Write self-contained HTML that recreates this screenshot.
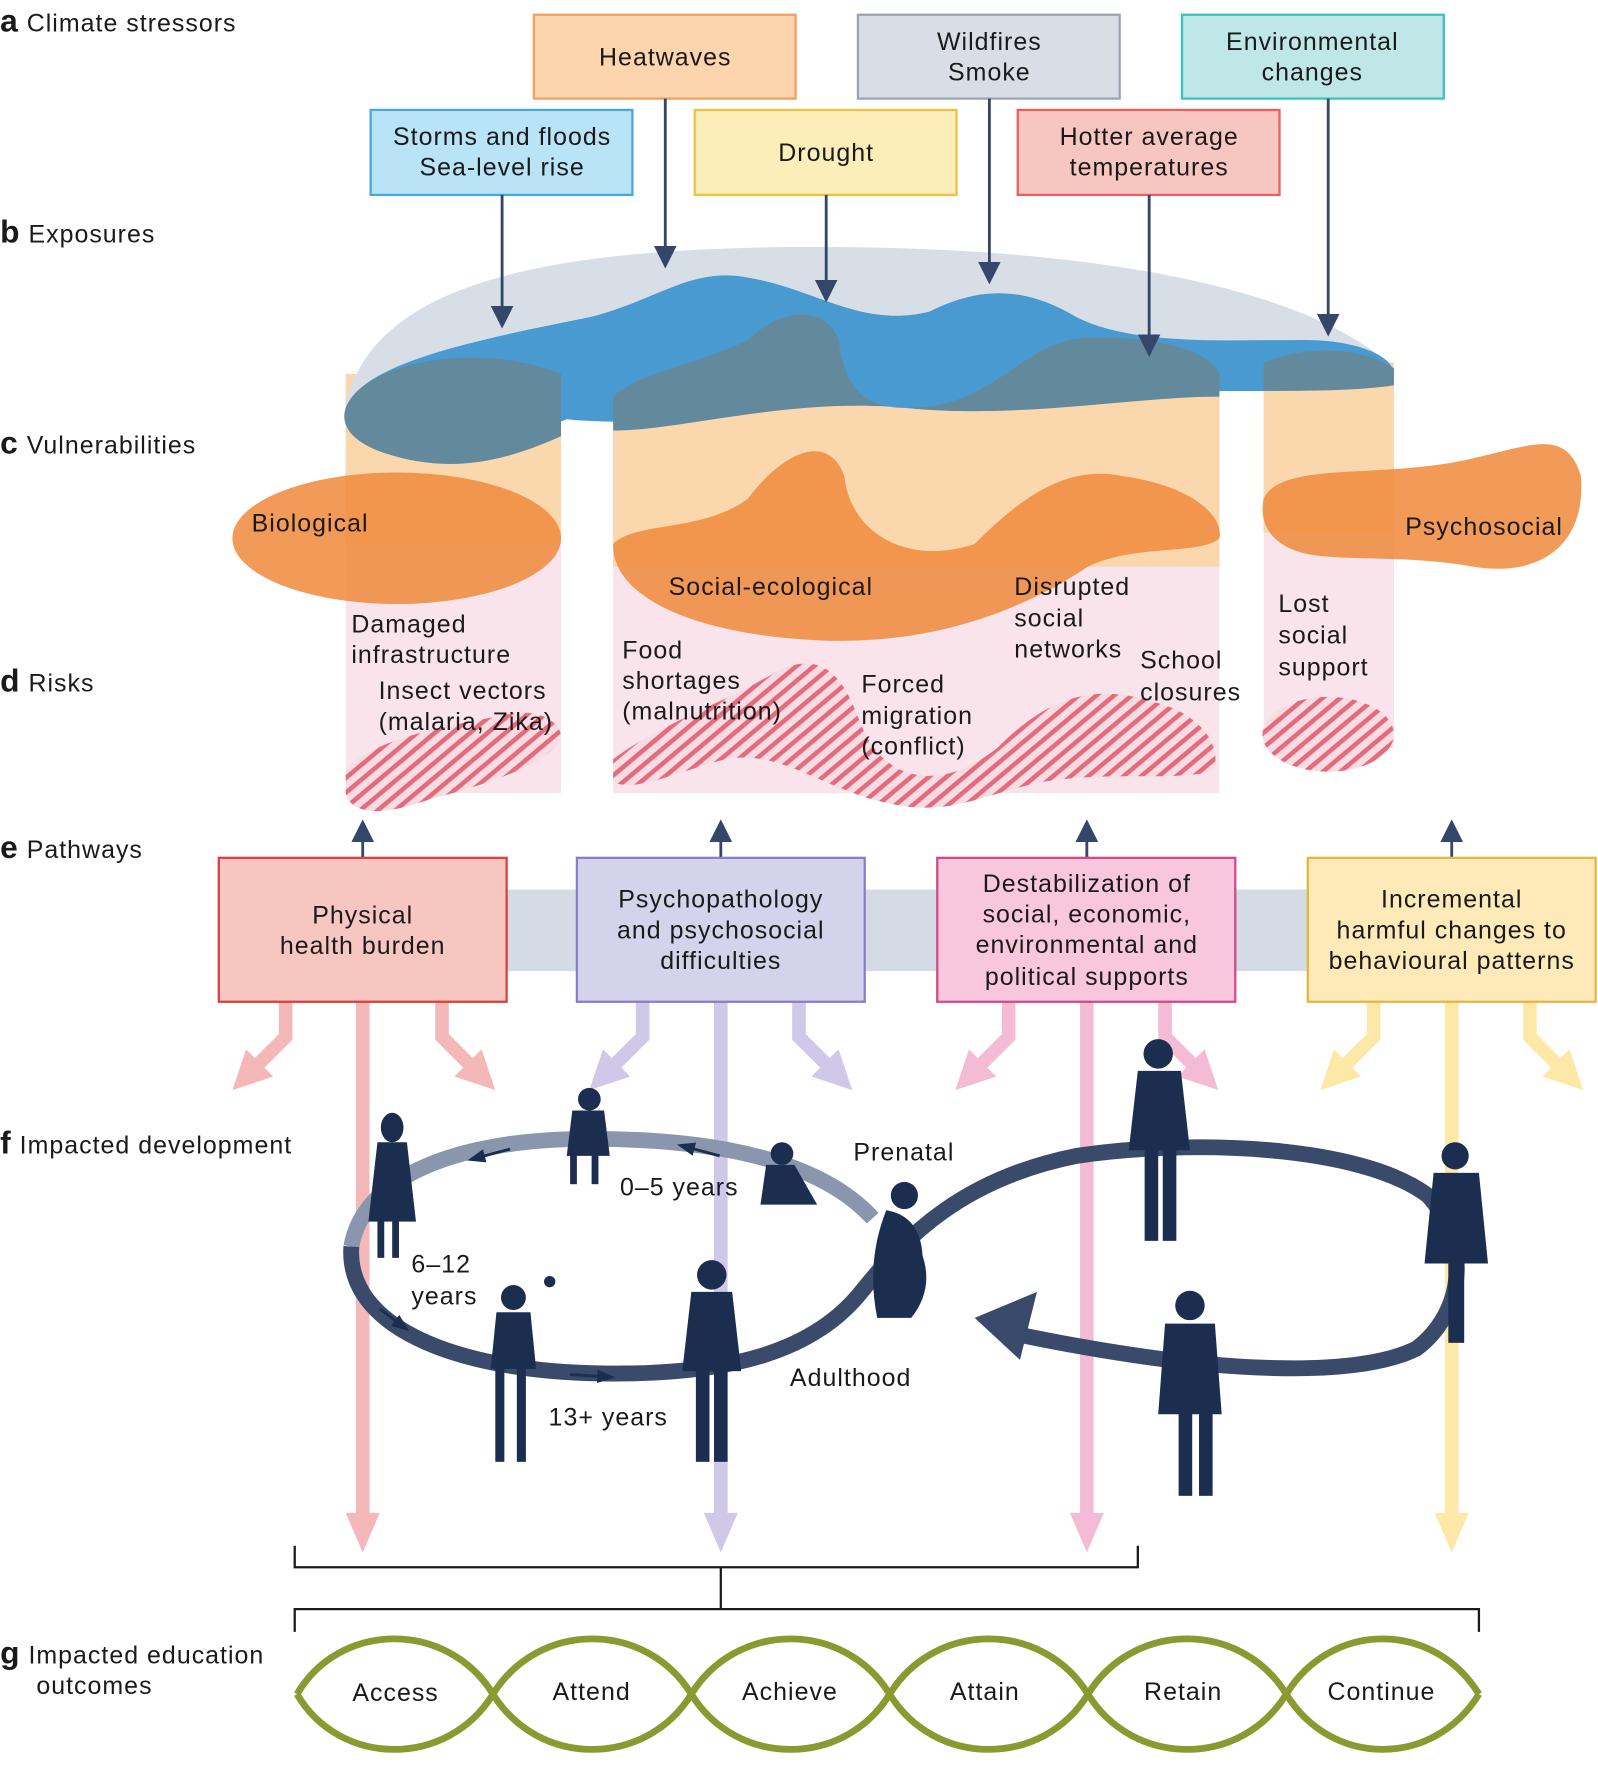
<!DOCTYPE html>
<html><head><meta charset="utf-8"><style>
html,body{margin:0;padding:0;background:#fff}
svg{display:block}
text{font-family:"Liberation Sans",sans-serif;fill:#1a1a1a;letter-spacing:0.9px}
</style></head><body>
<svg width="1598" height="1778" viewBox="0 0 1410 1569" xmlns="http://www.w3.org/2000/svg">
<defs>
<pattern id="h" width="10" height="10" patternUnits="userSpaceOnUse" patternTransform="rotate(-40)">
<rect width="10" height="10" fill="#f7dce3"/><rect width="10" height="4" fill="#e56a7c"/></pattern>
<marker id="ar" markerWidth="8" markerHeight="8" refX="4" refY="4" orient="auto"><path d="M0,0 L8,4 L0,8 z" fill="#34466a"/></marker>
<marker id="m1" markerUnits="userSpaceOnUse" markerWidth="34" markerHeight="34" refX="10" refY="17" orient="auto"><path d="M0,0 L34,17 L0,34 z" fill="#f5b8b8"/></marker>
<marker id="m2" markerUnits="userSpaceOnUse" markerWidth="34" markerHeight="34" refX="10" refY="17" orient="auto"><path d="M0,0 L34,17 L0,34 z" fill="#cfc8e8"/></marker>
<marker id="m3" markerUnits="userSpaceOnUse" markerWidth="34" markerHeight="34" refX="10" refY="17" orient="auto"><path d="M0,0 L34,17 L0,34 z" fill="#f4bcd4"/></marker>
<marker id="m4" markerUnits="userSpaceOnUse" markerWidth="34" markerHeight="34" refX="10" refY="17" orient="auto"><path d="M0,0 L34,17 L0,34 z" fill="#fde8a8"/></marker>
<marker id="lp" markerUnits="userSpaceOnUse" markerWidth="16" markerHeight="12" refX="8" refY="6" orient="auto"><path d="M0,0 L16,6 L0,12 z" fill="#1c2e50"/></marker>
</defs>
<!-- left labels -->
<g font-size="22">
<text x="0" y="28"><tspan font-weight="bold" font-size="28">a</tspan> Climate stressors</text>
<text x="0" y="214"><tspan font-weight="bold" font-size="28">b</tspan> Exposures</text>
<text x="0" y="400"><tspan font-weight="bold" font-size="28">c</tspan> Vulnerabilities</text>
<text x="0" y="610"><tspan font-weight="bold" font-size="28">d</tspan> Risks</text>
<text x="0" y="757"><tspan font-weight="bold" font-size="28">e</tspan> Pathways</text>
<text x="0" y="1018"><tspan font-weight="bold" font-size="28">f</tspan> Impacted development</text>
<text x="0" y="1468"><tspan font-weight="bold" font-size="28">g</tspan> Impacted education</text>
<text x="32" y="1495">outcomes</text>
</g>
<!-- columns backgrounds -->
<rect x="305" y="330" width="190" height="370" fill="#f8e4ea"/>
<rect x="541" y="340" width="535" height="360" fill="#f8e4ea"/>
<rect x="1115" y="320" width="115" height="340" fill="#f8e4ea"/>
<rect x="305" y="330" width="190" height="150" fill="#fbd7ae"/>
<rect x="541" y="340" width="535" height="160" fill="#fbd7ae"/>
<rect x="1115" y="320" width="115" height="150" fill="#fbd7ae"/>
<!-- grey cloud -->
<path d="M305,355 C330,260 450,220 700,218 C950,216 1150,250 1230,325 L1230,340 L305,360 z" fill="#d7dee6"/>
<!-- blue -->
<path d="M305,360 C320,320 420,300 520,280 C580,265 610,235 660,245 C720,255 760,290 820,275 C860,255 900,250 950,280 C1000,305 1080,300 1150,300 C1200,300 1230,315 1230,330 C1230,345 1150,345 1080,345 C1000,350 900,370 800,360 C700,350 600,380 500,370 C450,390 400,420 340,400 C310,390 300,375 305,360z" fill="#4a9ad2"/>
<path d="M305,360 C320,320 420,300 495,330 L495,385 C450,405 400,420 340,400 C310,390 300,375 305,360z" fill="#628a9c"/>
<path d="M541,350 C560,330 620,320 660,300 C690,270 730,270 740,300 C745,340 760,360 800,360 C880,360 900,300 960,298 C1020,296 1070,310 1076,330 L1076,350 C1000,350 900,370 800,360 C700,350 600,380 541,380z" fill="#628a9c"/>
<path d="M1115,320 C1150,305 1200,305 1230,325 L1230,340 C1200,345 1150,345 1115,345z" fill="#628a9c"/>
<!-- vulnerabilities -->
<ellipse cx="350" cy="475" rx="145" ry="58" fill="#f08a3c" opacity="0.85"/>
<path d="M541,480 C560,460 620,470 660,440 C690,400 730,380 745,420 C750,470 800,500 860,480 C900,440 940,410 990,420 C1060,430 1080,460 1076,475 C1060,490 1000,480 960,500 C900,540 820,570 720,565 C620,560 540,530 541,480z" fill="#f08a3c" opacity="0.85"/>
<path d="M1115,440 C1130,410 1200,420 1270,410 C1340,400 1380,370 1395,420 C1400,480 1360,510 1300,500 C1240,490 1200,495 1160,490 C1125,485 1110,465 1115,440z" fill="#f08a3c" opacity="0.85"/>
<!-- hatched risks -->
<path d="M305,680 C330,650 400,640 450,630 C480,625 495,640 495,650 C490,670 440,690 380,705 C340,720 310,720 305,700z" fill="url(#h)"/>
<path d="M541,670 C580,640 640,620 690,590 C730,575 745,600 760,640 C780,690 830,700 880,660 C920,620 960,600 1020,620 C1060,630 1080,660 1070,680 C1040,690 980,680 920,690 C870,700 840,720 790,710 C730,700 690,660 640,670 C600,680 560,700 541,690z" fill="url(#h)"/>
<ellipse cx="1172" cy="648" rx="58" ry="33" fill="url(#h)"/>
<!-- vulnerability/risk labels -->
<g font-size="22">
<text x="222" y="469">Biological</text>
<text x="590" y="525">Social-ecological</text>
<text x="1240" y="472">Psychosocial</text>
<text x="310" y="558">Damaged</text><text x="310" y="585">infrastructure</text>
<text x="334" y="617">Insect vectors</text><text x="334" y="644">(malaria, Zika)</text>
<text x="549" y="581">Food</text><text x="549" y="608">shortages</text><text x="549" y="635">(malnutrition)</text>
<text x="760" y="611">Forced</text><text x="760" y="639">migration</text><text x="760" y="666">(conflict)</text>
<text x="895" y="525">Disrupted</text><text x="895" y="553">social</text><text x="895" y="580">networks</text>
<text x="1006" y="590">School</text><text x="1006" y="618">closures</text>
<text x="1128" y="540">Lost</text><text x="1128" y="568">social</text><text x="1128" y="596">support</text>
</g>
<!-- stressor boxes -->
<g stroke-width="2">
<rect x="471" y="13" width="231" height="74" fill="#fcd5ae" stroke="#f0a060"/>
<rect x="757" y="13" width="231" height="74" fill="#d9dee6" stroke="#9aa3b5"/>
<rect x="1043" y="13" width="231" height="74" fill="#bfe7e7" stroke="#3cc0c0"/>
<rect x="327" y="97" width="231" height="75" fill="#b9e3f6" stroke="#4aa7db"/>
<rect x="613" y="97" width="231" height="75" fill="#fdedb8" stroke="#f0c040"/>
<rect x="898" y="97" width="231" height="75" fill="#f8c6c0" stroke="#e86060"/>
</g>
<g font-size="22" text-anchor="middle">
<text x="587" y="58">Heatwaves</text>
<text x="873" y="44">Wildfires</text><text x="873" y="71">Smoke</text>
<text x="1158" y="44">Environmental</text><text x="1158" y="71">changes</text>
<text x="443" y="128">Storms and floods</text><text x="443" y="155">Sea-level rise</text>
<text x="729" y="142">Drought</text>
<text x="1014" y="128">Hotter average</text><text x="1014" y="155">temperatures</text>
</g>
<g stroke="#34466a" stroke-width="2.5" marker-end="url(#ar)">
<line x1="443" y1="172" x2="443" y2="280"/>
<line x1="587" y1="87" x2="587" y2="227"/>
<line x1="729" y1="172" x2="729" y2="257"/>
<line x1="873" y1="87" x2="873" y2="241"/>
<line x1="1014" y1="172" x2="1014" y2="305"/>
<line x1="1172" y1="87" x2="1172" y2="287"/>
<line x1="320" y1="757" x2="320" y2="733"/>
<line x1="636" y1="757" x2="636" y2="733"/>
<line x1="959" y1="757" x2="959" y2="733"/>
<line x1="1281" y1="757" x2="1281" y2="733"/>
</g>
<!-- pathways -->
<rect x="447" y="785" width="708" height="72" fill="#d5dbe4"/>
<g fill="none" stroke-width="12">
<path d="M252,884 V915 L222,945" stroke="#f5b8b8" marker-end="url(#m1)"/><path d="M390,884 V915 L420,945" stroke="#f5b8b8" marker-end="url(#m1)"/>
<path d="M567,884 V915 L537,945" stroke="#cfc8e8" marker-end="url(#m2)"/><path d="M705,884 V915 L735,945" stroke="#cfc8e8" marker-end="url(#m2)"/>
<path d="M890,884 V915 L860,945" stroke="#f4bcd4" marker-end="url(#m3)"/><path d="M1028,884 V915 L1058,945" stroke="#f4bcd4" marker-end="url(#m3)"/>
<path d="M1212,884 V915 L1182,945" stroke="#fde8a8" marker-end="url(#m4)"/><path d="M1350,884 V915 L1380,945" stroke="#fde8a8" marker-end="url(#m4)"/>
</g>
<g fill="none" stroke-width="12">
<line x1="320" y1="884" x2="320" y2="1345" stroke="#f5b8b8"/>
<line x1="636" y1="884" x2="636" y2="1345" stroke="#cfc8e8"/>
<line x1="959" y1="884" x2="959" y2="1345" stroke="#f4bcd4"/>
<line x1="1281" y1="884" x2="1281" y2="1345" stroke="#fde8a8"/>
</g>
<path d="M305,1335 L335,1335 L320,1370z" fill="#f5b8b8"/>
<path d="M621,1335 L651,1335 L636,1370z" fill="#cfc8e8"/>
<path d="M944,1335 L974,1335 L959,1370z" fill="#f4bcd4"/>
<path d="M1266,1335 L1296,1335 L1281,1370z" fill="#fde8a8"/>
<g stroke-width="2">
<rect x="193" y="757" width="254" height="127" fill="#f8c6c0" stroke="#d84040"/>
<rect x="509" y="757" width="254" height="127" fill="#d5d3ec" stroke="#8a7cc8"/>
<rect x="827" y="757" width="263" height="127" fill="#f8c7dd" stroke="#d04a8a"/>
<rect x="1154" y="757" width="254" height="127" fill="#fdeab8" stroke="#e0b840"/>
</g>
<g font-size="22" text-anchor="middle">
<text x="320" y="815">Physical</text><text x="320" y="842">health burden</text>
<text x="636" y="801">Psychopathology</text><text x="636" y="828">and psychosocial</text><text x="636" y="855">difficulties</text>
<text x="959" y="787">Destabilization of</text><text x="959" y="814">social, economic,</text><text x="959" y="841">environmental and</text><text x="959" y="869">political supports</text>
<text x="1281" y="801">Incremental</text><text x="1281" y="828">harmful changes to</text><text x="1281" y="855">behavioural patterns</text>
</g>
<!-- infinity loop -->
<g fill="none" stroke="#3a4a6a" stroke-width="14">
<path d="M770,1075 C720,1020 620,1005 520,1005 C400,1005 320,1040 310,1100" stroke="#8a96ae"/>
<path d="M310,1100 C305,1170 400,1210 530,1212 C650,1214 720,1190 760,1140 C800,1090 850,1040 950,1020 C1050,1005 1200,1010 1260,1055 C1300,1100 1290,1160 1250,1190 C1200,1215 1080,1215 900,1178"/>
</g>
<path d="M860,1163 L915,1140 L900,1200z" fill="#3a4a6a"/>
<g stroke="#1c2e50" stroke-width="2.5" fill="none" marker-end="url(#lp)">
<line x1="635" y1="1020" x2="605" y2="1012"/>
<line x1="450" y1="1014" x2="420" y2="1022"/>
<line x1="335" y1="1155" x2="355" y2="1170"/>
<line x1="503" y1="1213" x2="535" y2="1215"/>
</g>
<!-- silhouettes -->
<g fill="#1c2e50">
<ellipse cx="346" cy="995" rx="10" ry="13"/><path d="M333,1008 h26 l8,70 h-42z"/><rect x="333" y="1075" width="6" height="35"/><rect x="346" y="1075" width="6" height="35"/>
<circle cx="520" cy="970" r="10"/><path d="M505,980 h28 l5,40 h-38z"/><rect x="503" y="1015" width="6" height="30"/><rect x="522" y="1015" width="6" height="30"/>
<circle cx="690" cy="1018" r="10"/><path d="M676,1028 h25 l20,35 h-50z"/>
<circle cx="798" cy="1055" r="12"/><path d="M782,1068 q30,5 32,40 q10,30 -10,55 h-30 q-10,-50 8,-95z"/>
<circle cx="453" cy="1145" r="11"/><path d="M438,1158 h30 l5,50 h-40z"/><rect x="437" y="1205" width="8" height="85"/><rect x="456" y="1205" width="8" height="85"/><circle cx="485" cy="1131" r="5"/>
<circle cx="628" cy="1125" r="13"/><path d="M610,1140 h36 l8,70 h-52z"/><rect x="614" y="1205" width="12" height="85"/><rect x="630" y="1205" width="12" height="85"/>
<circle cx="1022" cy="930" r="13"/><path d="M1004,945 h38 l8,70 h-54z"/><rect x="1010" y="1010" width="12" height="85"/><rect x="1026" y="1010" width="12" height="85"/>
<circle cx="1284" cy="1020" r="12"/><path d="M1265,1035 h40 l8,80 h-56z"/><rect x="1278" y="1110" width="14" height="75"/>
<circle cx="1050" cy="1152" r="13"/><path d="M1028,1168 h44 l6,80 h-56z"/><rect x="1040" y="1245" width="12" height="75"/><rect x="1058" y="1245" width="12" height="75"/>
</g>
<g font-size="22">
<text x="753" y="1024">Prenatal</text>
<text x="547" y="1055">0–5 years</text>
<text x="363" y="1123">6–12</text><text x="363" y="1151">years</text>
<text x="697" y="1223">Adulthood</text>
<text x="484" y="1258">13+ years</text>
</g>
<!-- brackets -->
<g fill="none" stroke="#1a1a1a" stroke-width="2">
<path d="M260,1364 V1383 H1004 V1364"/>
<path d="M636,1383 V1420"/>
<path d="M260,1440 V1420 H1305 V1440"/>
</g>
<!-- helix -->
<g fill="none" stroke="#8a9a30" stroke-width="6">
<path d="M262,1495 C300,1430 395,1430 435,1495 C475,1560 570,1560 610,1495 C650,1430 745,1430 785,1495 C825,1560 920,1560 960,1495 C1000,1430 1095,1430 1135,1495 C1175,1560 1265,1560 1305,1495"/>
<path d="M262,1495 C300,1560 395,1560 435,1495 C475,1430 570,1430 610,1495 C650,1560 745,1560 785,1495 C825,1430 920,1430 960,1495 C1000,1560 1095,1560 1135,1495 C1175,1430 1265,1430 1305,1495"/>
</g>
<g font-size="22" text-anchor="middle">
<text x="349" y="1501">Access</text><text x="522" y="1500">Attend</text><text x="697" y="1500">Achieve</text>
<text x="869" y="1500">Attain</text><text x="1044" y="1500">Retain</text><text x="1219" y="1500">Continue</text>
</g>
</svg>
</body></html>
